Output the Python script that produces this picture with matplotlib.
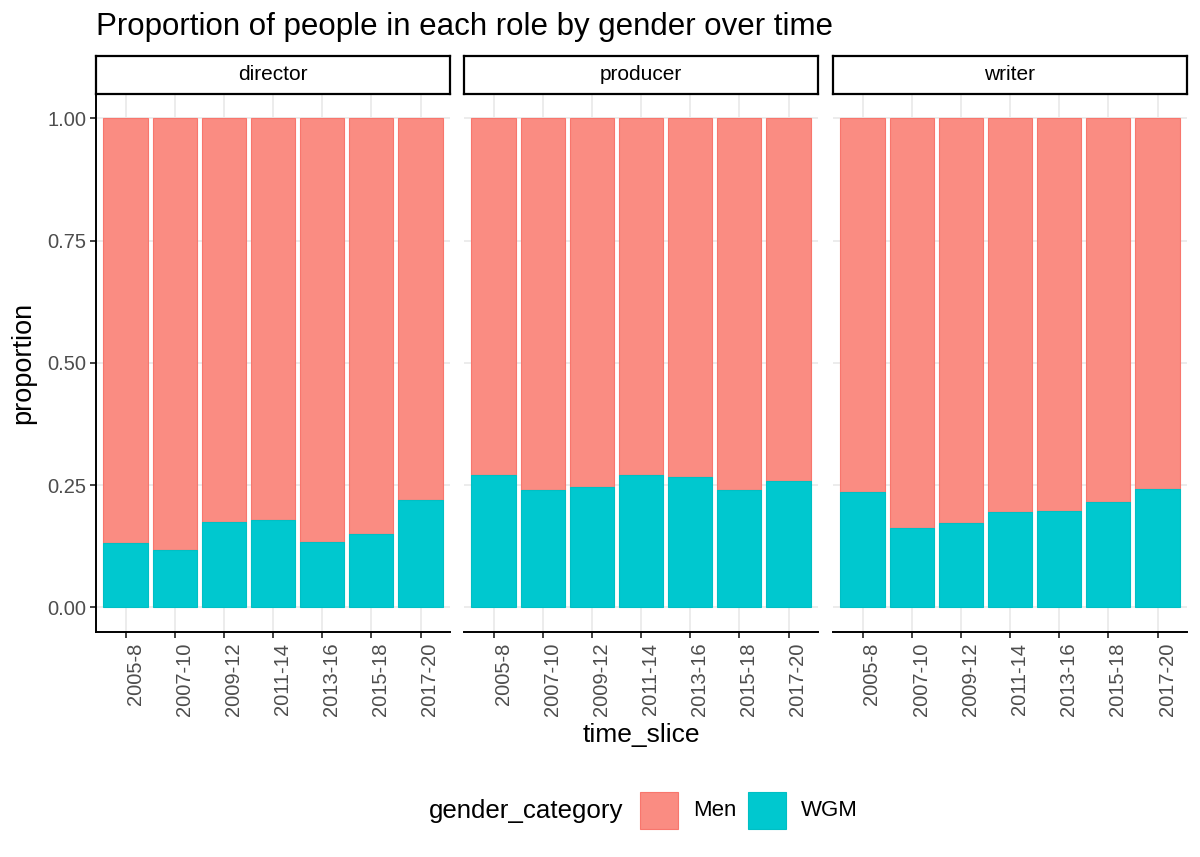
import matplotlib
matplotlib.use("Agg")
import matplotlib.pyplot as plt
from matplotlib.patches import Rectangle
import numpy as np

plt.rcParams['font.family'] = ['Liberation Sans', 'DejaVu Sans']

roles = ["director", "producer", "writer"]
time_slices = ["2005-8", "2007-10", "2009-12", "2011-14", "2013-16", "2015-18", "2017-20"]
wgm_director = [0.131, 0.118, 0.175, 0.179, 0.134, 0.150, 0.220]
wgm_producer = [0.270, 0.240, 0.247, 0.270, 0.266, 0.240, 0.258]
wgm_writer = [0.236, 0.162, 0.172, 0.195, 0.197, 0.216, 0.242]
wgm_values = [wgm_director, wgm_producer, wgm_writer]
categories = ["Men", "WGM"]

fill_colors = {"Men": "#FA8C82", "WGM": "#00C8CF"}
edge_colors = {"Men": "#F8766D", "WGM": "#00BFC4"}

W, H = 1200, 857
fig = plt.figure(figsize=(W / 100, H / 100), dpi=100)

panel_left = [96, 464, 833]
panel_w = 354
top_px, bot_px = 94, 631.7
strip_top = 55.7

x = np.arange(1, len(time_slices) + 1)
for i, role in enumerate(roles):
    ax = fig.add_axes([panel_left[i] / W, 1 - bot_px / H, panel_w / W, (bot_px - top_px) / H])
    wgm = np.array(wgm_values[i])
    men = 1 - wgm
    ax.bar(x, men, bottom=wgm, width=0.9, color=fill_colors["Men"], edgecolor=edge_colors["Men"],
           linewidth=0.8, zorder=3)
    ax.bar(x, wgm, width=0.9, color=fill_colors["WGM"], edgecolor=edge_colors["WGM"],
           linewidth=0.8, zorder=3)
    ax.set_xlim(0.4, 7.6)
    ax.set_ylim(-0.05, 1.05)
    ax.set_xticks(x)
    ax.set_xticklabels(time_slices, rotation=90, fontsize=14.5, color="#4D4D4D", ha="left")
    yt = [0, 0.25, 0.5, 0.75, 1.0]
    ax.set_yticks(yt)
    ax.grid(True, color="#EBEBEB", linewidth=1.3, zorder=0)
    ax.set_axisbelow(True)
    for s in ["top", "right"]:
        ax.spines[s].set_visible(False)
    ax.spines["bottom"].set_linewidth(1.4)
    ax.spines["bottom"].set_color("black")
    ax.tick_params(axis="x", length=4, width=1.3, color="#333333", pad=4)
    if i == 0:
        ax.set_yticklabels(["0.00", "0.25", "0.50", "0.75", "1.00"], fontsize=14.5, color="#4D4D4D")
        ax.spines["left"].set_linewidth(1.4)
        ax.spines["left"].set_color("black")
        ax.tick_params(axis="y", length=4, width=1.3, color="#333333", pad=3)
        ax.set_ylabel("proportion", fontsize=19.5, labelpad=8)
    else:
        ax.spines["left"].set_visible(False)
        ax.tick_params(axis="y", length=0, labelleft=False)
    if i == 1:
        ax.set_xlabel("time_slice", fontsize=19, labelpad=5)
    # strip
    sax = fig.add_axes([panel_left[i] / W, 1 - top_px / H, panel_w / W, (top_px - strip_top) / H])
    sax.set_xticks([]); sax.set_yticks([])
    for s in sax.spines.values():
        s.set_linewidth(1.6)
        s.set_color("black")
    sax.text(0.5, 0.5, role, ha="center", va="center", fontsize=15, transform=sax.transAxes)

fig.text(96 / W, 1 - 27 / H, "Proportion of people in each role by gender over time",
         fontsize=22.5, ha="left", va="center")

# legend
ly = 1 - 811 / H
fig.text(429 / W, ly, "gender_category", fontsize=18.6, ha="left", va="center")
key_x = [640, 748]
for k, cat in enumerate(categories):
    fig.add_artist(Rectangle((key_x[k] / W, 1 - 829 / H), 38 / W, 37 / H,
                             transform=fig.transFigure, facecolor=fill_colors[cat],
                             edgecolor=edge_colors[cat], linewidth=0.8))
    fig.text((key_x[k] + 53) / W, ly, cat, fontsize=16, ha="left", va="center")

fig.savefig("out.png", dpi=100)
